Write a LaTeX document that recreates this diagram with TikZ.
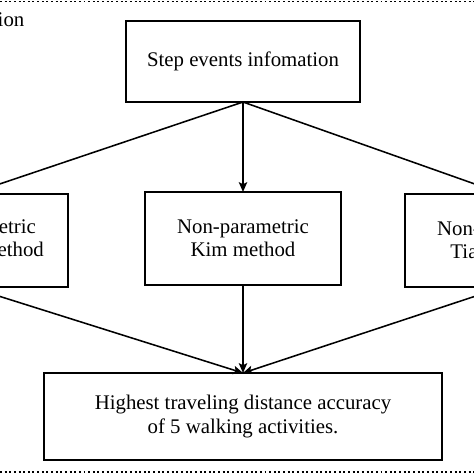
\documentclass[tikz,border=0pt]{standalone}
\usepackage{fontspec}
\setmainfont{Liberation Serif}
\usetikzlibrary{arrows.meta,positioning}

\begin{document}
\begin{tikzpicture}[x=0.025cm, y=-0.025cm, every node/.style={outer sep=0pt},
    box/.style={draw, line width=1.2pt, inner sep=0pt, align=center, font=\fontsize{14.8}{16.4}\selectfont},
    conn/.style={line width=1.1pt, -{Stealth[length=7pt, width=6pt, inset=1.5pt]}},
    dots/.style={line width=1.4pt, dash pattern=on 1.4pt off 1.9pt}]
        \useasboundingbox (0,0) rectangle (474,474);
        \clip (0,0) rectangle (474,474);
        \draw [dots] (0,1.5) -- (474,1.5);
        \draw [dots] (0,472) -- (474,472);
        \node (title) [anchor=base east, font=\fontsize{14.8}{16.4}\selectfont] at (29,26) {estimation};
        \node (step) [box, minimum width=5.85cm, minimum height=2.025cm] at (243,61.5) {Step events infomation};
        \node (wein) [box, minimum width=4.9cm, minimum height=2.325cm] at (-30,240.5) {Non-parametric\\Weinberg method};
        \node (kim) [box, minimum width=4.9cm, minimum height=2.325cm] at (243,238.5) {Non-parametric\\Kim method};
        \node (tian) [box, minimum width=4.9cm, minimum height=2.325cm] at (503,240.5) {Non-parametric\\Tian method};
        \node (best) [box, minimum width=9.95cm, minimum height=2.175cm] at (243,416.5) {Highest traveling distance accuracy\\of 5 walking activities.};
        %\draw [help lines] (0,0) grid (474,474);
        \foreach \m in {wein,kim,tian} {
            \draw [conn] (step.south) -- (\m.north);
            \draw [conn] (\m.south) -- (best.north);
        }
    \end{tikzpicture}
\end{document}
